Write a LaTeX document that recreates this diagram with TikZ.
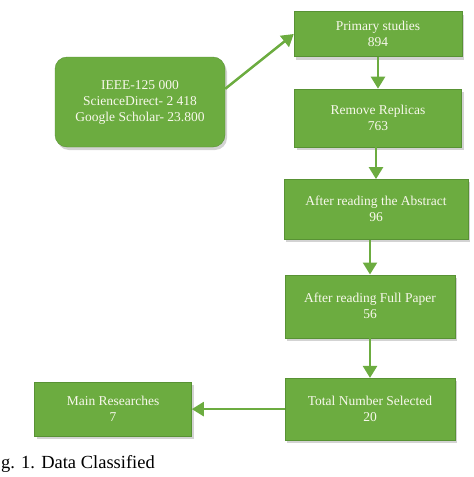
\documentclass[tikz,border=0pt]{standalone}
\usepackage{fontspec}
\setmainfont{Liberation Serif}
\usetikzlibrary{positioning,arrows.meta,shadows}
\definecolor{boxgreen}{RGB}{108,172,64}
\definecolor{edgegreen}{RGB}{88,146,52}
\definecolor{textcream}{RGB}{248,248,236}

\begin{document}
\begin{tikzpicture}[
x=1pt, y=-1pt,
node distance=34pt,
stage/.style={rectangle, draw=edgegreen, fill=boxgreen, text=textcream, align=center,
  font=\fontsize{13.5}{16}\selectfont, drop shadow={shadow xshift=2pt, shadow yshift=-3pt, opacity=0.35}},
origin/.style={stage, rounded corners=12pt},
flow/.style={draw=boxgreen, line width=2.5pt, -{Triangle[length=12pt,width=14pt]}}
]
\useasboundingbox (0,0) rectangle (474,477);

\node[origin, minimum width=170pt, minimum height=90pt](sources) at (140,102){IEEE-125 000\\ScienceDirect- 2 418\\Google Scholar- 23.800};

\node[stage, minimum width=168pt, minimum height=45pt](primary) at (378,34){Primary studies\\894};
\node[stage, minimum width=167pt, minimum height=58pt](replicas)[below=32pt of primary]{Remove Replicas\\763};
\node[stage, minimum width=184pt, minimum height=60pt](abstract)[below=32pt of replicas,xshift=-2pt]{After reading the Abstract\\96};
\node[stage, minimum width=170pt, minimum height=63pt](fullpaper)[below=35pt of abstract,xshift=-6pt]{After reading Full Paper\\56};
\node[stage, minimum width=170pt, minimum height=62pt](total)[below=40pt of fullpaper]{Total Number Selected\\20};
\node[stage, minimum width=157pt, minimum height=54pt](main)[left=93pt of total]{Main Researches\\7};

\node[anchor=base west, font=\fontsize{18.5}{20}\selectfont, inner sep=0pt](caption) at (1,468){g. 1. Data Classified};

\draw[flow] (sources.north east) ++(0,32) coordinate (srcout) (srcout) -- (primary.west);
\draw[flow] (primary) -- (replicas);
\draw[flow] (replicas.south -| abstract.north) -- (abstract.north);
\draw[flow] (abstract.south -| fullpaper.north) -- (fullpaper.north);
\draw[flow] (fullpaper) -- (total);
\draw[flow] (total) -- (main);
\end{tikzpicture}
\end{document}
